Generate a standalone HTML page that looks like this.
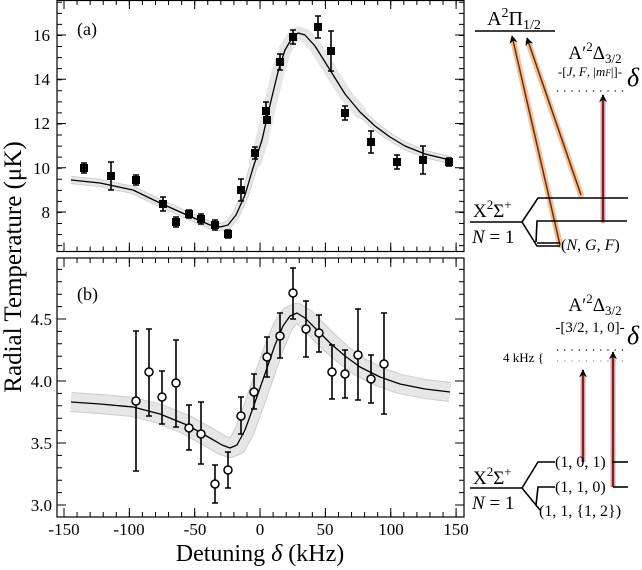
<!DOCTYPE html>
<html><head><meta charset="utf-8"><style>
html,body{margin:0;padding:0;background:#fff;}
svg{display:block;font-family:"Liberation Serif","DejaVu Serif",serif;}
</style></head><body>
<svg width="642" height="570" viewBox="0 0 642 570" xmlns="http://www.w3.org/2000/svg">
<defs>
<marker id="ah" viewBox="0 0 10 10" refX="9" refY="5" markerWidth="10" markerHeight="8" orient="auto" markerUnits="userSpaceOnUse">
<path d="M0,0 L10,5 L0,10 L3,5 Z" fill="#000"/></marker>
</defs>

<!-- ===== Plot (a) ===== -->
<path id="ca" d="M71,180 L100,183 L133,190 L160,203 L187,215 L210,225 L220,227 L228,225 L236,215 L245,195 L253,168 L262,140 L270,105 L278,72 L285,50 L292,38 L298,33 L305,35 L315,46 L330,70 L345,94 L360,112 L375,126 L390,137 L405,146 L425,154 L450,160" fill="none" stroke="#c9c9c9" stroke-width="8" stroke-linejoin="round"/>
<path d="M71,180 L100,183 L133,190 L160,203 L187,215 L210,225 L220,227 L228,225 L236,215 L245,195 L253,168 L262,140 L270,105 L278,72 L285,50 L292,38 L298,33 L305,35 L315,46 L330,70 L345,94 L360,112 L375,126 L390,137 L405,146 L425,154 L450,160" fill="none" stroke="#e6e6e6" stroke-width="6.5" stroke-linejoin="round"/>
<path d="M255,162 L262,140 L270,105 L278,72 L285,50 L292,38 L298,33 L305,35 L315,46 L330,70 L345,94 L360,112" fill="none" stroke="#e6e6e6" stroke-width="13" stroke-linejoin="round" stroke-linecap="round"/>
<path d="M71,180 L100,183 L133,190 L160,203 L187,215 L210,225 L220,227 L228,225 L236,215 L245,195 L253,168 L262,140 L270,105 L278,72 L285,50 L292,38 L298,33 L305,35 L315,46 L330,70 L345,94 L360,112 L375,126 L390,137 L405,146 L425,154 L450,160" fill="none" stroke="#000" stroke-width="1.3" stroke-linejoin="round"/>

<g stroke="#000" stroke-width="1.6">
<path d="M84,163V173M81,163H87M81,173H87
M111,162V190M108,162H114M108,190H114
M136,175V185M133,175H139M133,185H139
M163,197V211M160,197H166M160,211H166
M176,217V227M173,217H179M173,227H179
M189,210V218M186,210H192M186,218H192
M201,214V224M198,214H204M198,224H204
M215,220V230M212,220H218M212,230H218
M228,230V238M225,230H231M225,238H231
M241,179V201M238,179H244M238,201H244
M255,147V159M252,147H258M252,159H258
M266,102V120M263,102H269M263,120H269
M267,116V124
M280,54V70M277,54H283M277,70H283
M293,30V44M290,30H296M290,44H296
M318,16V38M315,16H321M315,38H321
M331,31V71M328,31H334M328,71H334
M345,106V120M342,106H348M342,120H348
M371,131V153M368,131H374M368,153H374
M397,155V169M394,155H400M394,169H400
M423,146V174M420,146H426M420,174H426
M449,158V166M446,158H452M446,166H452"/>
</g>
<g fill="#000">
<rect x="80" y="164" width="8" height="8"/><rect x="107" y="172" width="8" height="8"/><rect x="132" y="176" width="8" height="8"/>
<rect x="159" y="200" width="8" height="8"/><rect x="172" y="218" width="8" height="8"/><rect x="185" y="210" width="8" height="8"/>
<rect x="197" y="215" width="8" height="8"/><rect x="211" y="221" width="8" height="8"/><rect x="224" y="230" width="8" height="8"/>
<rect x="237" y="186" width="8" height="8"/><rect x="251" y="149" width="8" height="8"/><rect x="262" y="107" width="8" height="8"/>
<rect x="263" y="116" width="8" height="8"/><rect x="276" y="58" width="8" height="8"/><rect x="289" y="33" width="8" height="8"/>
<rect x="314" y="23" width="8" height="8"/><rect x="327" y="47" width="8" height="8"/><rect x="341" y="109" width="8" height="8"/>
<rect x="367" y="138" width="8" height="8"/><rect x="393" y="158" width="8" height="8"/><rect x="419" y="156" width="8" height="8"/>
<rect x="445" y="158" width="8" height="8"/>
</g>

<rect x="57" y="0.5" width="407" height="251" fill="none" stroke="#000" stroke-width="1.2"/>
<g stroke="#000" fill="none">
<line x1="63.5" y1="249" x2="464" y2="249" stroke-width="5" stroke-dasharray="1 12.07"/>
<line x1="63.5" y1="247" x2="464" y2="247" stroke-width="9" stroke-dasharray="1 64.35"/>
<line x1="63.5" y1="2.5" x2="464" y2="2.5" stroke-width="5" stroke-dasharray="1 12.07"/>
<line x1="63.5" y1="4.5" x2="464" y2="4.5" stroke-width="9" stroke-dasharray="1 64.35"/>
<line x1="59.5" y1="1.8" x2="59.5" y2="251" stroke-width="5" stroke-dasharray="1 10.06"/>
<line x1="61.5" y1="34.5" x2="61.5" y2="251" stroke-width="9" stroke-dasharray="1 43.25"/>
<line x1="461.5" y1="1.8" x2="461.5" y2="251" stroke-width="5" stroke-dasharray="1 10.06"/>
<line x1="459.5" y1="34.5" x2="459.5" y2="251" stroke-width="9" stroke-dasharray="1 43.25"/>
</g>
<g font-size="17" text-anchor="end">
<text x="50" y="41">16</text><text x="50" y="85">14</text><text x="50" y="129">12</text><text x="50" y="174">10</text><text x="50" y="218">8</text>
</g>
<text x="77" y="35" font-size="18">(a)</text>

<!-- ===== Plot (b) ===== -->
<path d="M71,402 L100,404 L133,407 L160,414 L187,425 L210,438 L222,445 L230,448 L237,445 L245,430 L253,408 L260,388 L267,368 L275,345 L283,326 L290,316 L297,313 L305,318 L315,328 L330,343 L345,356 L360,367 L380,377 L400,384 L425,389 L450,392" fill="none" stroke="#cccccc" stroke-width="20" stroke-linejoin="round"/>
<path d="M71,402 L100,404 L133,407 L160,414 L187,425 L210,438 L222,445 L230,448 L237,445 L245,430 L253,408 L260,388 L267,368 L275,345 L283,326 L290,316 L297,313 L305,318 L315,328 L330,343 L345,356 L360,367 L380,377 L400,384 L425,389 L450,392" fill="none" stroke="#e6e6e6" stroke-width="18" stroke-linejoin="round"/>
<path d="M71,402 L100,404 L133,407 L160,414 L187,425 L210,438 L222,445 L230,448 L237,445 L245,430 L253,408 L260,388 L267,368 L275,345 L283,326 L290,316 L297,313 L305,318 L315,328 L330,343 L345,356 L360,367 L380,377 L400,384 L425,389 L450,392" fill="none" stroke="#000" stroke-width="1.3" stroke-linejoin="round"/>

<g stroke="#000" stroke-width="1.6">
<path d="M136,331V471M133,331H139M133,471H139
M149,329V416M146,329H152M146,416H152
M162,371V424M159,371H165M159,424H165
M176,340V427M173,340H179M173,427H179
M189,405V450M186,405H192M186,450H192
M201,402V464M198,402H204M198,464H204
M215,465V503M212,465H218M212,503H218
M228,452V488M225,452H231M225,488H231
M241,397V434M238,397H244M238,434H244
M254,374V409M251,374H257M251,409H257
M267,337V377M264,337H270M264,377H270
M280,313V358M277,313H283M277,358H283
M293,268V319M290,268H296M290,319H296
M306,301V357M303,301H309M303,357H309
M319,315V352M316,315H322M316,352H322
M332,345V399M329,345H335M329,399H335
M345,350V398M342,350H348M342,398H348
M358,309V400M355,309H361M355,400H361
M371,355V403M368,355H374M368,403H374
M384,313V414M381,313H387M381,414H387"/>
</g>
<g fill="#fff" stroke="#000" stroke-width="1.5">
<circle cx="136" cy="401" r="4"/><circle cx="149" cy="372" r="4"/><circle cx="162" cy="397" r="4"/><circle cx="176" cy="383" r="4"/>
<circle cx="189" cy="428" r="4"/><circle cx="201" cy="434" r="4"/><circle cx="215" cy="484" r="4"/><circle cx="228" cy="470" r="4"/>
<circle cx="241" cy="416" r="4"/><circle cx="254" cy="392" r="4"/><circle cx="267" cy="357" r="4"/><circle cx="280" cy="336" r="4"/>
<circle cx="293" cy="293" r="4"/><circle cx="306" cy="329" r="4"/><circle cx="319" cy="333" r="4"/><circle cx="332" cy="372" r="4"/>
<circle cx="345" cy="374" r="4"/><circle cx="358" cy="355" r="4"/><circle cx="371" cy="379" r="4"/><circle cx="384" cy="364" r="4"/>
</g>

<rect x="57" y="258" width="407" height="259" fill="none" stroke="#000" stroke-width="1.2"/>
<g stroke="#000" fill="none">
<line x1="63.5" y1="514.5" x2="464" y2="514.5" stroke-width="5" stroke-dasharray="1 12.07"/>
<line x1="63.5" y1="512.5" x2="464" y2="512.5" stroke-width="9" stroke-dasharray="1 64.35"/>
<line x1="63.5" y1="260.5" x2="464" y2="260.5" stroke-width="5" stroke-dasharray="1 12.07"/>
<line x1="63.5" y1="262.5" x2="464" y2="262.5" stroke-width="9" stroke-dasharray="1 64.35"/>
<line x1="59.5" y1="268.9" x2="59.5" y2="517" stroke-width="5" stroke-dasharray="1 11.4"/>
<line x1="61.5" y1="318.5" x2="61.5" y2="517" stroke-width="9" stroke-dasharray="1 61"/>
<line x1="461.5" y1="268.9" x2="461.5" y2="517" stroke-width="5" stroke-dasharray="1 11.4"/>
<line x1="459.5" y1="318.5" x2="459.5" y2="517" stroke-width="9" stroke-dasharray="1 61"/>
</g>
<g font-size="17" text-anchor="end">
<text x="52" y="325">4.5</text><text x="52" y="387">4.0</text><text x="52" y="449">3.5</text><text x="52" y="511">3.0</text>
</g>
<text x="77" y="300" font-size="18">(b)</text>
<g font-size="17" text-anchor="middle">
<text x="64" y="535">-150</text><text x="129" y="535">-100</text><text x="195" y="535">-50</text><text x="260" y="535">0</text>
<text x="325" y="535">50</text><text x="391" y="535">100</text><text x="456" y="535">150</text>
</g>
<text x="260" y="561" font-size="24" text-anchor="middle">Detuning <tspan font-style="italic">δ</tspan> (kHz)</text>
<text transform="translate(21,267) rotate(-90)" font-size="25" text-anchor="middle">Radial Temperature (μK)</text>

<!-- ===== Right diagram top ===== -->
<text x="514" y="25" font-size="20" text-anchor="middle">A<tspan font-size="14" dy="-8">2</tspan><tspan dy="8">Π</tspan><tspan font-size="14" dy="4">1/2</tspan></text>
<line x1="475" y1="31" x2="555" y2="31" stroke="#000" stroke-width="1.6"/>
<g stroke-linecap="round">
<line x1="560" y1="245" x2="513" y2="40" stroke="#f0b27a" stroke-width="6" opacity="0.8"/>
<line x1="581" y1="195" x2="528" y2="42" stroke="#f0b27a" stroke-width="6" opacity="0.8"/>
<line x1="603" y1="221" x2="603" y2="99" stroke="#d8a0a0" stroke-width="5"/>
</g>
<line x1="560" y1="245" x2="512" y2="36" stroke="#6a2a10" stroke-width="1.5" marker-end="url(#ah)"/>
<line x1="581" y1="195" x2="527" y2="38" stroke="#6a2a10" stroke-width="1.5" marker-end="url(#ah)"/>
<line x1="603" y1="221" x2="603" y2="95" stroke="#7a2020" stroke-width="2" marker-end="url(#ah)"/>
<text x="595" y="59" font-size="19" text-anchor="middle">A′<tspan font-size="13" dy="-8">2</tspan><tspan dy="8">Δ</tspan><tspan font-size="13" dy="4">3/2</tspan></text>
<text x="590" y="76" font-size="13" text-anchor="middle">-[<tspan font-style="italic">J</tspan>, <tspan font-style="italic">F</tspan>, |<tspan font-style="italic">m</tspan><tspan font-size="9" font-style="italic">F</tspan>|]-</text>
<text x="627" y="86" font-size="26" font-style="italic">δ</text>
<line x1="557" y1="91" x2="625" y2="91" stroke="#000" stroke-width="1.2" stroke-dasharray="1.2 6"/>
<text x="473" y="217" font-size="19">X<tspan font-size="13" dy="-8">2</tspan><tspan dy="8">Σ</tspan><tspan font-size="13" dy="-8">+</tspan></text>
<text x="472" y="243" font-size="19"><tspan font-style="italic">N</tspan> = 1</text>
<g stroke="#000" stroke-width="1.6" fill="none">
<line x1="470" y1="222" x2="522" y2="222"/>
<path d="M522,222 L538,198 L628,198"/>
<path d="M536,242 L537,221 L627,221"/>
<path d="M522,222 L537,246 L560,246"/>
<path d="M537,243 L560,243"/>
</g>
<text x="561" y="250" font-size="16">(<tspan font-style="italic">N</tspan>, <tspan font-style="italic">G</tspan>, <tspan font-style="italic">F</tspan>)</text>

<!-- ===== Right diagram bottom ===== -->
<text x="595" y="311" font-size="19" text-anchor="middle">A′<tspan font-size="13" dy="-8">2</tspan><tspan dy="8">Δ</tspan><tspan font-size="13" dy="4">3/2</tspan></text>
<text x="590" y="332" font-size="15" text-anchor="middle">-[3/2, 1, 0]-</text>
<text x="627" y="344" font-size="26" font-style="italic">δ</text>
<text x="503" y="362" font-size="13">4 kHz {</text>
<line x1="557" y1="350" x2="625" y2="350" stroke="#000" stroke-width="1.2" stroke-dasharray="1.2 6"/>
<line x1="557" y1="361" x2="625" y2="361" stroke="#777" stroke-width="1" stroke-dasharray="1.2 6"/>
<line x1="583" y1="462" x2="583" y2="375" stroke="#d8a0a0" stroke-width="5"/>
<line x1="613" y1="487" x2="613" y2="357" stroke="#d8a0a0" stroke-width="5"/>
<line x1="583" y1="462" x2="583" y2="370" stroke="#7a2020" stroke-width="2" marker-end="url(#ah)"/>
<line x1="613" y1="487" x2="613" y2="352" stroke="#7a2020" stroke-width="2" marker-end="url(#ah)"/>
<text x="473" y="484" font-size="19">X<tspan font-size="13" dy="-8">2</tspan><tspan dy="8">Σ</tspan><tspan font-size="13" dy="-8">+</tspan></text>
<text x="472" y="509" font-size="19"><tspan font-style="italic">N</tspan> = 1</text>
<g stroke="#000" stroke-width="1.6" fill="none">
<line x1="470" y1="488" x2="522" y2="488"/>
<path d="M522,488 L538,462 L555,462"/>
<line x1="612" y1="462" x2="628" y2="462"/>
<path d="M536,505 L538,487 L555,487"/>
<line x1="613" y1="487" x2="628" y2="487"/>
<path d="M522,488 L540,510"/>
</g>
<text x="555" y="467" font-size="16">(1, 0, 1)</text>
<text x="555" y="492" font-size="16">(1, 1, 0)</text>
<text x="539" y="516" font-size="16">(1, 1, {1, 2})</text>
</svg>
</body></html>
